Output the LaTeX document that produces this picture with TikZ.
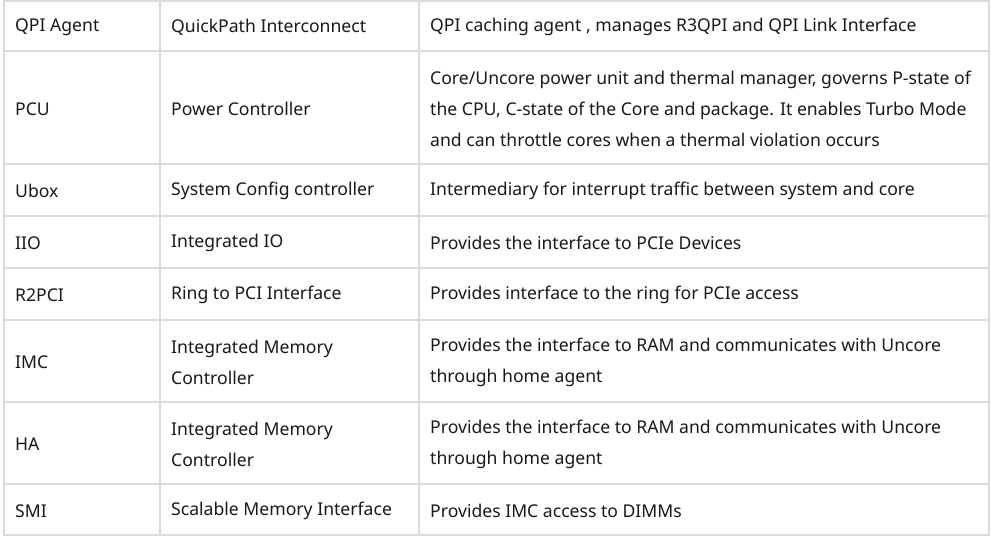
\documentclass[tikz,border=0pt]{standalone}
\usepackage{fontspec}
\setmainfont{Noto Sans}
\begin{document}
\begin{tikzpicture}[x=1pt,y=-1pt,
  grid/.style={draw=black!14,line width=1.2pt},
  cell/.style={anchor=west,align=left,inner sep=0pt,text=black!90,font=\fontsize{17.6}{31}\selectfont}]
\useasboundingbox (0,0) rectangle (992,537);
\fill[white] (0,0) rectangle (992,537);
\draw[grid] (4,1) rectangle (989,535);
\foreach \y in {51,164,216,268,320,402,484} \draw[grid] (4,\y) -- (989,\y);
\foreach \x in {160,419} \draw[grid] (\x,1) -- (\x,535);
\node[cell] (a1) at (15,27) {QPI Agent};
\node[cell] (b1) at (171,27) {QuickPath Interconnect};
\node[cell] (c1) at (430,27) {QPI caching agent , manages R3QPI and QPI Link Interface};
\node[cell] (a2) at (15,109) {PCU};
\node[cell] (b2) at (171,109) {Power Controller};
\node[cell] (c2) at (430,109) {Core/Uncore power unit and thermal manager, governs P-state of\\the CPU, C-state of the Core and package. It enables Turbo Mode\\and can throttle cores when a thermal violation occurs};
\node[cell] (a3) at (15,191) {Ubox};
\node[cell] (b3) at (171,191) {System Config controller};
\node[cell] (c3) at (430,191) {Intermediary for interrupt traffic between system and core};
\node[cell] (a4) at (15,243) {IIO};
\node[cell] (b4) at (171,243) {Integrated IO};
\node[cell] (c4) at (430,243) {Provides the interface to PCIe Devices};
\node[cell] (a5) at (15,295) {R2PCI};
\node[cell] (b5) at (171,295) {Ring to PCI Interface};
\node[cell] (c5) at (430,295) {Provides interface to the ring for PCIe access};
\node[cell] (a6) at (15,362) {IMC};
\node[cell] (b6) at (171,362) {Integrated Memory\\Controller};
\node[cell] (c6) at (430,362) {Provides the interface to RAM and communicates with Uncore\\through home agent};
\node[cell] (a7) at (15,444) {HA};
\node[cell] (b7) at (171,444) {Integrated Memory\\Controller};
\node[cell] (c7) at (430,444) {Provides the interface to RAM and communicates with Uncore\\through home agent};
\node[cell] (a8) at (15,511) {SMI};
\node[cell] (b8) at (171,511) {Scalable Memory Interface};
\node[cell] (c8) at (430,511) {Provides IMC access to DIMMs};
\end{tikzpicture}
\end{document}
